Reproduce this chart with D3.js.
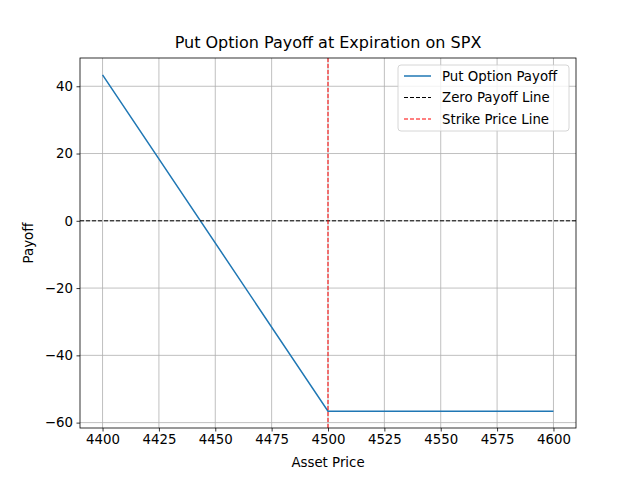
<!DOCTYPE html>
<html>
<head>
<meta charset="utf-8">
<script src="https://cdn.jsdelivr.net/npm/d3@7"></script>
<style>
  body { margin: 0; background: #fff; }
  text { font-family: "DejaVu Sans", sans-serif; fill: #000; }
</style>
</head>
<body>
<script>
/* Chart data */
var assetPrices = [4400, 4500, 4600],
	payoffs = [43.4, -56.6, -56.6],
	strikePrice = 4500,
	xTicks = [4400, 4425, 4450, 4475, 4500, 4525, 4550, 4575, 4600],
	yTicks = [-60, -40, -20, 0, 20, 40],
	legendLabels = ["Put Option Payoff", "Zero Payoff Line", "Strike Price Line"];

/* Display setup */
var size = {width: 640, height: 480},
	margin = {top: 58, right: 64, bottom: 52, left: 80},
	width = size.width - margin.left - margin.right,
	height = size.height - margin.top - margin.bottom,
	svg = d3.select("body").append("svg")
		.attr("width", size.width)
		.attr("height", size.height),
	g = svg.append("g").attr("transform", "translate(" + margin.left + "," + margin.top + ")");

var x = d3.scaleLinear().domain([4390, 4610]).range([0, width]),
	y = d3.scaleLinear().domain([-61.6, 48.4]).range([height, 0]);

// grid
g.append("g").selectAll("line").data(xTicks).enter().append("line")
	.attr("x1", function(d) { return x(d); }).attr("x2", function(d) { return x(d); })
	.attr("y1", 0).attr("y2", height)
	.style("stroke", "#b0b0b0").style("stroke-width", 0.8);
g.append("g").selectAll("line").data(yTicks).enter().append("line")
	.attr("y1", function(d) { return y(d); }).attr("y2", function(d) { return y(d); })
	.attr("x1", 0).attr("x2", width)
	.style("stroke", "#b0b0b0").style("stroke-width", 0.8);

// payoff line
var line = d3.line()
	.x(function(d, i) { return x(assetPrices[i]); })
	.y(function(d) { return y(d); });
g.append("path").datum(payoffs)
	.attr("d", line)
	.style("fill", "none").style("stroke", "#1f77b4").style("stroke-width", 1.5);

// zero line and strike line
g.append("line")
	.attr("x1", 0).attr("x2", width).attr("y1", y(0)).attr("y2", y(0))
	.style("stroke", "#000").style("stroke-width", 1).style("stroke-dasharray", "4,2");
g.append("line")
	.attr("x1", x(strikePrice)).attr("x2", x(strikePrice)).attr("y1", 0).attr("y2", height)
	.style("stroke", "red").style("stroke-width", 1).style("stroke-dasharray", "4,2");

// axes
var xAxis = g.append("g").attr("transform", "translate(0," + height + ")")
	.call(d3.axisBottom(x).tickValues(xTicks).tickSize(3.5).tickPadding(3.5).tickFormat(d3.format("d")));
var yAxis = g.append("g")
	.call(d3.axisLeft(y).tickValues(yTicks).tickSize(3.5).tickPadding(3.5)
		.tickFormat(function(d) { return d < 0 ? "\u2212" + Math.abs(d) : d; }));
[xAxis, yAxis].forEach(function(a) {
	a.select(".domain").remove();
	a.selectAll("text").style("font-family", "DejaVu Sans").style("font-size", "13.33px").style("fill", "#000");
	a.selectAll("line").style("stroke", "#000").style("stroke-width", 0.8);
});

g.append("rect").attr("width", width).attr("height", height)
	.style("fill", "none").style("stroke", "#000").style("stroke-width", 0.8);

// labels
svg.append("text").attr("x", margin.left + width / 2).attr("y", 48)
	.attr("text-anchor", "middle").style("font-size", "16px")
	.text("Put Option Payoff at Expiration on SPX");
svg.append("text").attr("x", margin.left + width / 2).attr("y", 467)
	.attr("text-anchor", "middle").style("font-size", "13.33px")
	.text("Asset Price");
svg.append("text").attr("transform", "translate(33," + (margin.top + height / 2) + ") rotate(-90)")
	.attr("text-anchor", "middle").style("font-size", "13.33px")
	.text("Payoff");

// legend
var legend = g.append("g").attr("transform", "translate(" + (width - 178) + ",7)");
legend.append("rect").attr("width", 171).attr("height", 66).attr("rx", 3)
	.style("fill", "#fff").style("fill-opacity", 0.8).style("stroke", "#ccc").style("stroke-width", 0.8);
var legendStyles = [
	{color: "#1f77b4", dash: null, w: 1.5},
	{color: "#000", dash: "4,2", w: 1},
	{color: "red", dash: "4,2", w: 1}
];
legendLabels.forEach(function(label, i) {
	var yy = 11 + i * 21.5;
	legend.append("line").attr("x1", 6).attr("x2", 33).attr("y1", yy).attr("y2", yy)
		.style("stroke", legendStyles[i].color).style("stroke-width", legendStyles[i].w)
		.style("stroke-dasharray", legendStyles[i].dash);
	legend.append("text").attr("x", 44).attr("y", yy + 4.7).style("font-size", "13.33px").text(label);
});
</script>
</body>
</html>
